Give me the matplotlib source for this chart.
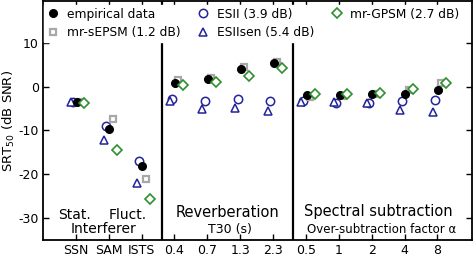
import matplotlib

matplotlib.use("Agg")
import matplotlib.pyplot as plt
from matplotlib.ticker import FuncFormatter

# condition labels, in the order they appear along the x axis
tick_labels = ["SSN", "SAM", "ISTS", "0.4", "0.7", "1.3", "2.3",
               "0.5", "1", "2", "4", "8"]
tick_pos = [1, 2, 3, 4, 5, 6, 7, 8, 9, 10, 11, 12]

# SRT50 in dB SNR per condition
empirical = [-3.5, -9.7, -18.1, 0.8, 1.7, 3.9, 5.4, -1.9, -2.0, -1.7, -1.7, -0.7]
sepsm = [-3.5, -7.5, -21.1, 1.5, 1.9, 4.4, 5.5, -2.4, -2.2, -1.6, -0.9, 0.8]
esii = [-3.5, -9.1, -17.0, -2.8, -3.4, -2.8, -3.3, -3.4, -3.8, -3.7, -3.4, -3.0]
esiisen = [-3.6, -12.1, -22.0, -3.2, -5.1, -4.8, -5.6, -3.6, -3.6, -3.8, -5.3, -5.8]
gpsm = [-3.7, -14.4, -25.6, 0.4, 1.0, 2.5, 4.3, -1.8, -1.7, -1.4, -0.6, 0.8]

BLUE = "#23239a"
GREEN = "#2f8f2f"
GRAY = "#a8a8a8"

fig = plt.figure(figsize=(4.74, 2.6), dpi=100)
ax = fig.add_axes([43 / 474, 20 / 260, 429 / 474, 239 / 260])

x = tick_pos
ax.plot([p - 0.08 for p in x], esii, "o", mfc="white", mec=BLUE, mew=1.1, ms=6,
        ls="none", label="ESII (3.9 dB)", zorder=3)
ax.plot([p - 0.15 for p in x], esiisen, "^", mfc="white", mec=BLUE, mew=1.1, ms=6.2,
        ls="none", label="ESIIsen (5.4 dB)", zorder=3)
ax.plot([p + 0.12 for p in x], sepsm, "s", mfc="white", mec=GRAY, mew=1.6, ms=4.3,
        ls="none", label="mr-sEPSM (1.2 dB)", zorder=4)
ax.plot([p + 0.02 for p in x], empirical, "o", color="black", ms=5.5,
        ls="none", label="empirical data", zorder=5)
ax.plot([p + 0.26 for p in x], gpsm, "D", mfc="white", mec=GREEN, mew=1.2, ms=5.2,
        ls="none", label="mr-GPSM (2.7 dB)", zorder=6)

for sep in [3.62, 7.62]:
    ax.axvline(sep, color="black", lw=1.6, zorder=2)

ax.set_xlim(0, 13.05)
ax.set_ylim(-35, 19.5)
ax.set_xticks(tick_pos)
ax.set_xticklabels(tick_labels)
ax.set_yticks([10, 0, -10, -20, -30])
ax.yaxis.set_major_formatter(FuncFormatter(lambda v, _: f"{v:.0f}".replace("\u2212", "-")))
ax.tick_params(direction="in", top=True, right=True, length=4, width=1,
               labelsize=9, pad=3)
for s in ax.spines.values():
    s.set_linewidth(1.3)
ax.set_ylabel("SRT$_{50}$ (dB SNR)", fontsize=9.5, labelpad=1)

ax.text(0.45, -29.3, "Stat.", fontsize=10, ha="left", va="center")
ax.text(2.0, -29.3, "Fluct.", fontsize=10, ha="left", va="center")
ax.text(1.85, -32.6, "Interferer", fontsize=10, ha="center", va="center")
ax.text(5.6, -28.8, "Reverberation", fontsize=10.5, ha="center", va="center")
ax.text(5.7, -32.5, "T30 (s)", fontsize=9, ha="center", va="center")
ax.text(10.2, -28.6, "Spectral subtraction", fontsize=10.5, ha="center", va="center")
ax.text(10.3, -32.6, "Over-subtraction factor α", fontsize=8.5, ha="center", va="center")

handles, labels = ax.get_legend_handles_labels()
order = ["empirical data", "mr-sEPSM (1.2 dB)", "ESII (3.9 dB)",
         "ESIIsen (5.4 dB)", "mr-GPSM (2.7 dB)"]
hmap = dict(zip(labels, handles))
leg = ax.legend([hmap[k] for k in order], order, ncol=3, loc="upper left",
                bbox_to_anchor=(0.003, 0.985), frameon=True, fontsize=8.8,
                handlelength=1.0, handletextpad=0.6, columnspacing=1.35,
                labelspacing=0.45, borderpad=0.25, borderaxespad=0.0)
leg.get_frame().set_edgecolor("white")
leg.get_frame().set_alpha(1.0)
leg.get_frame().set_boxstyle("square", pad=0)

fig.savefig("out.png", dpi=100)
